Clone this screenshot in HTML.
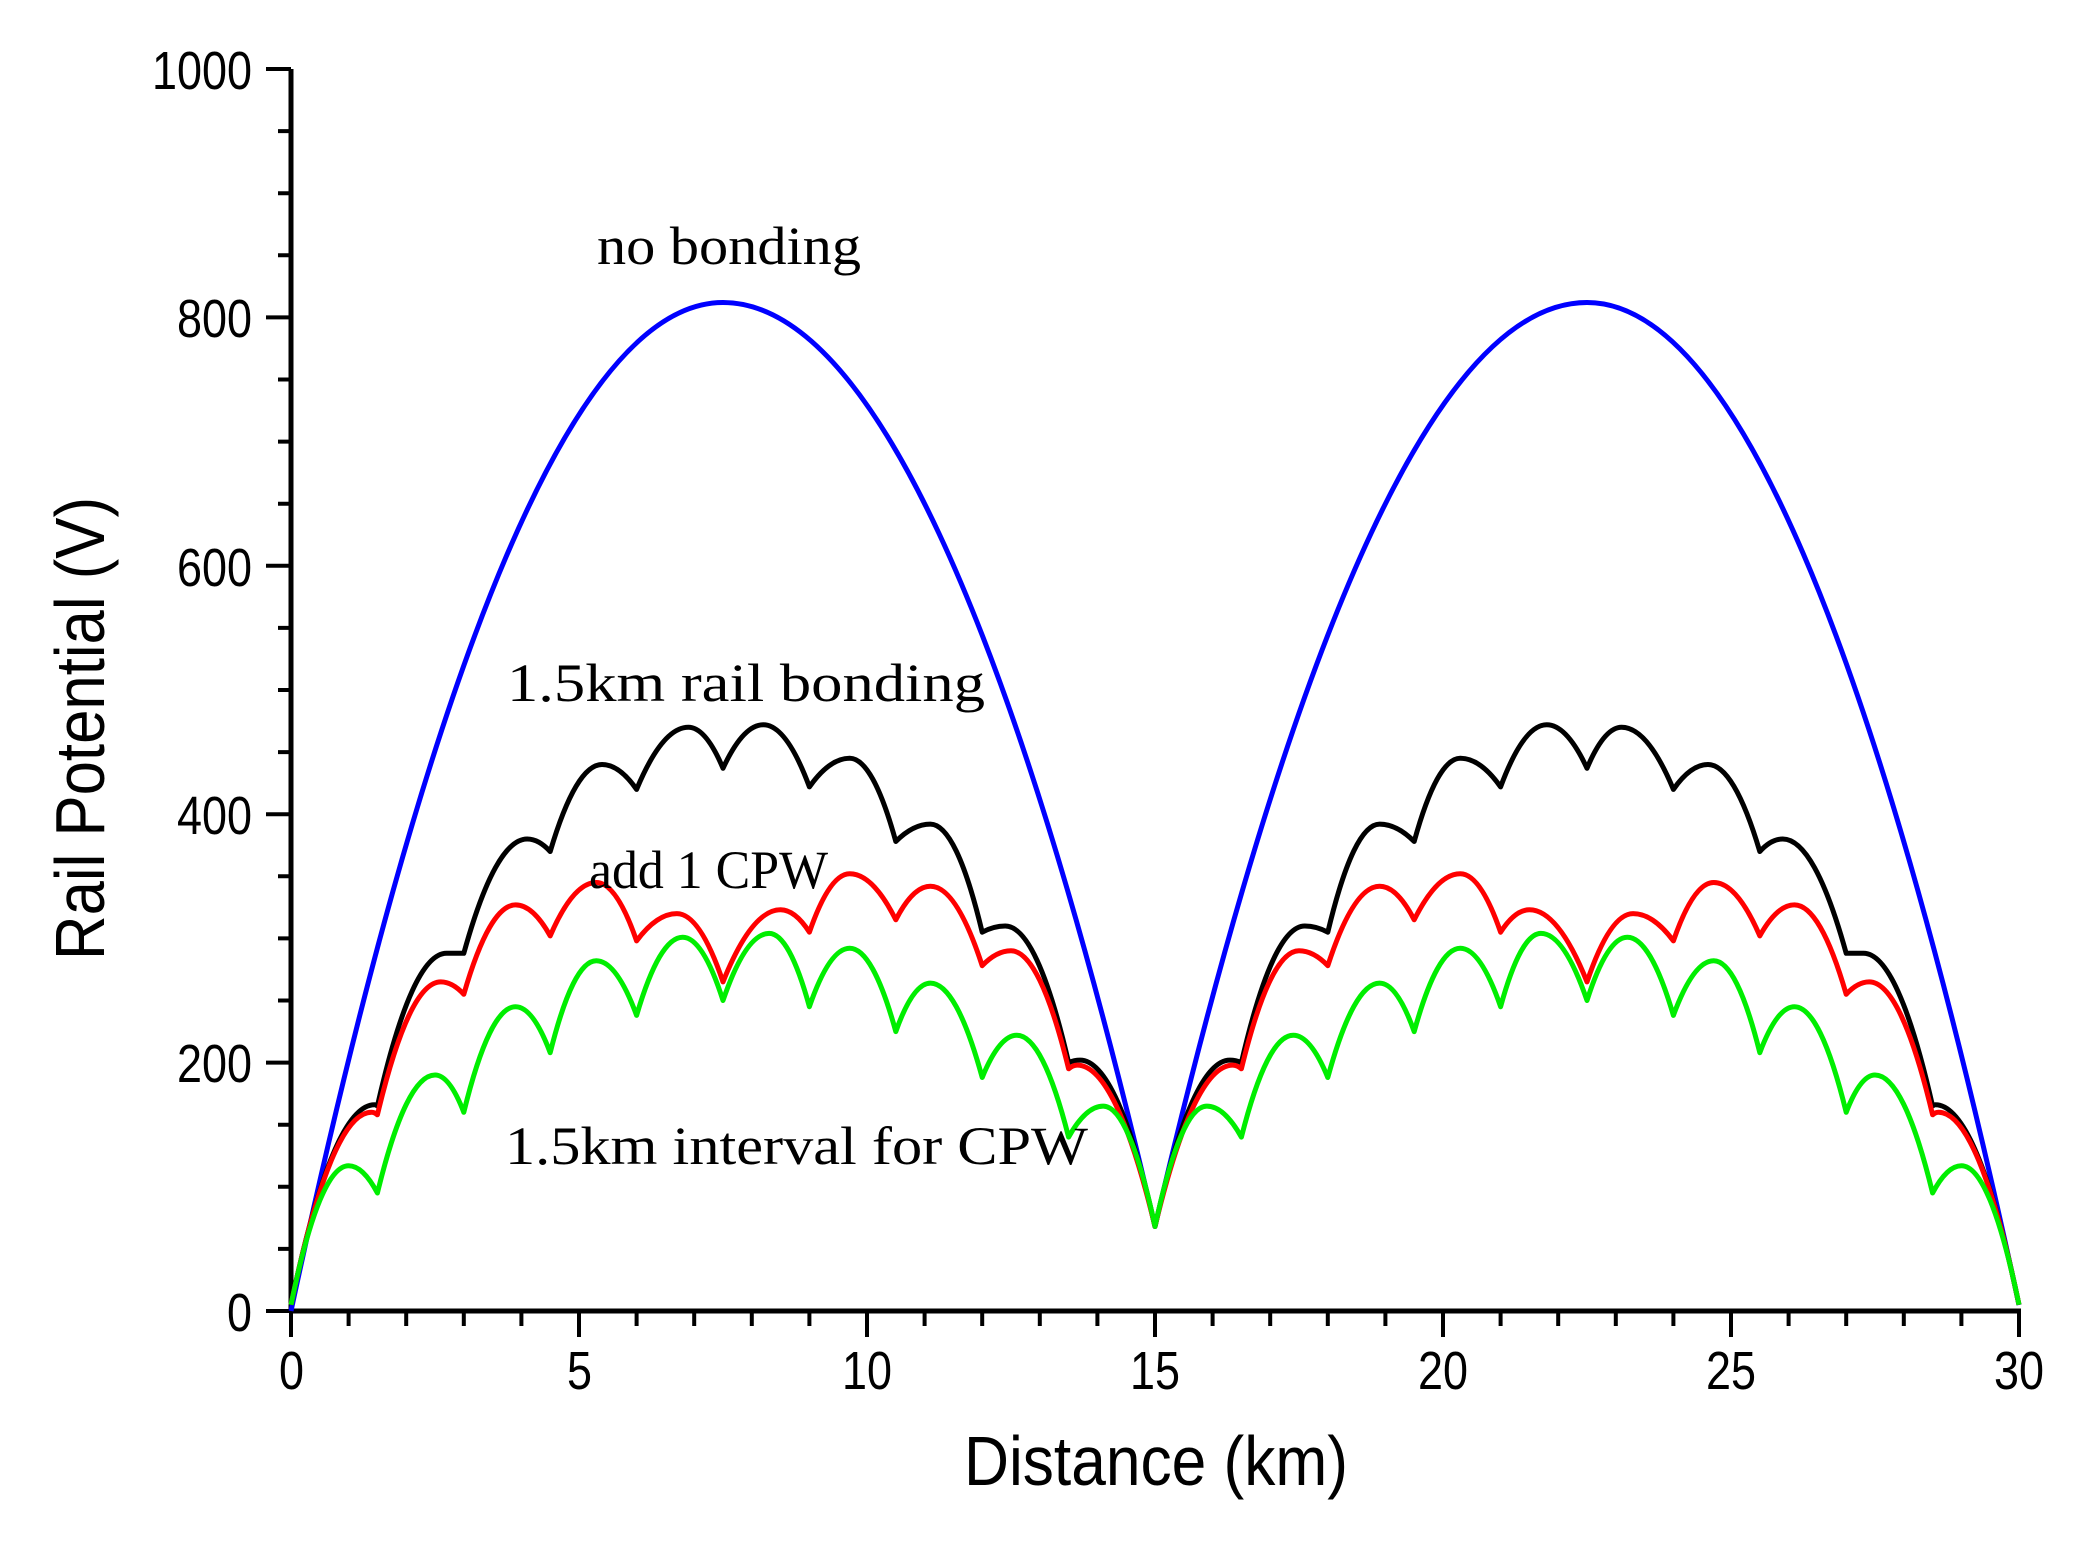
<!DOCTYPE html>
<html><head><meta charset="utf-8"><style>
html,body{margin:0;padding:0;background:#fff}
svg{display:block}
</style></head><body>
<svg width="2093" height="1544" xmlns="http://www.w3.org/2000/svg">
<rect width="2093" height="1544" fill="#fff"/>
<g stroke="#000" stroke-width="4">
<path d="M291,1311V1337M579,1311V1337M867,1311V1337M1155,1311V1337M1443,1311V1337M1731,1311V1337M2019,1311V1337
M348.6,1311V1326M406.2,1311V1326M463.8,1311V1326M521.4,1311V1326M636.6,1311V1326M694.2,1311V1326M751.8,1311V1326M809.4,1311V1326M924.6,1311V1326M982.2,1311V1326M1039.8,1311V1326M1097.4,1311V1326M1212.6,1311V1326M1270.2,1311V1326M1327.8,1311V1326M1385.4,1311V1326M1500.6,1311V1326M1558.2,1311V1326M1615.8,1311V1326M1673.4,1311V1326M1788.6,1311V1326M1846.2,1311V1326M1903.8,1311V1326M1961.4,1311V1326
M266,1311H291M266,1062.6H291M266,814.2H291M266,565.8H291M266,317.4H291M266,69H291
M278,1186.8H291M278,938.4H291M278,690H291M278,441.6H291M278,193.2H291
M278,1248.9H291M278,1124.7H291M278,1000.5H291M278,876.3H291M278,752.1H291M278,627.9H291M278,503.7H291M278,379.5H291M278,255.3H291M278,131.1H291"/>
</g>
<line x1="291" y1="69" x2="291" y2="1313" stroke="#000" stroke-width="5"/>
<line x1="289" y1="1311" x2="2021" y2="1311" stroke="#000" stroke-width="5"/>
<g fill="none" stroke-width="5" stroke-linejoin="round">
<path stroke="#0000ff" d="M291,1311 Q507,302.5 723,302.5 Q939,302.5 1155,1226.5 Q1371,302.5 1587,302.5 Q1803,302.5 2019,1305"/>
<path stroke="#000000" d="M291,1304.8
Q332.8,1104.8 374.5,1104.8 Q376,1104.8 377.4,1106.1
Q412,953.3 446.5,953.3 Q455.2,953.3 463.8,953.3
Q495.5,839 527.2,839 Q538.7,839 550.2,851.5
Q576.1,764.5 602,764.5 Q619.3,764.5 636.6,789.4
Q662.5,727.3 688.4,727.3 Q705.7,727.3 723,768.3
Q743.2,724.8 763.3,724.8 Q786.4,724.8 809.4,786.9
Q829.6,758.3 849.7,758.3 Q872.8,758.3 895.8,841.5
Q913.1,824.1 930.4,824.1 Q956.3,824.1 982.2,932.2
Q993.7,926 1005.2,926 Q1037,926 1068.6,1062.6
Q1074.4,1060.1 1080.1,1060.1 Q1117.6,1060.1 1155,1226.5
Q1192.4,1060.1 1229.9,1060.1 Q1235.6,1060.1 1241.4,1062.6
Q1273,926 1304.8,926 Q1316.3,926 1327.8,932.2
Q1353.7,824.1 1379.6,824.1 Q1396.9,824.1 1414.2,841.5
Q1437.2,758.3 1460.3,758.3 Q1480.4,758.3 1500.6,786.9
Q1523.6,724.8 1546.7,724.8 Q1566.8,724.8 1587,768.3
Q1604.3,727.3 1621.6,727.3 Q1647.5,727.3 1673.4,789.4
Q1690.7,764.5 1708,764.5 Q1733.9,764.5 1759.8,851.5
Q1771.3,839 1782.8,839 Q1814.5,839 1846.2,953.3
Q1854.8,953.3 1863.5,953.3 Q1898,953.3 1932.6,1106.1
Q1934,1104.8 1935.5,1104.8 Q1977.2,1104.8 2019,1304.8"/>
<path stroke="#ff0000" d="M291,1304.8
Q331.3,1112.3 371.6,1112.3 Q374.5,1112.3 377.4,1114.8
Q409.1,981.9 440.8,981.9 Q452.3,981.9 463.8,994.3
Q489.7,904.9 515.6,904.9 Q532.9,904.9 550.2,935.9
Q573.2,882.5 596.3,882.5 Q616.4,882.5 636.6,940.9
Q656.8,913.6 676.9,913.6 Q700,913.6 723,981.9
Q751.8,909.8 780.6,909.8 Q795,909.8 809.4,932.2
Q829.6,873.8 849.7,873.8 Q872.8,873.8 895.8,919.8
Q913.1,886.2 930.4,886.2 Q956.3,886.2 982.2,965.7
Q996.6,950.8 1011,950.8 Q1039.8,950.8 1068.6,1068.8
Q1072.9,1065.1 1077.2,1065.1 Q1116.1,1065.1 1155,1226.5
Q1193.9,1065.1 1232.8,1065.1 Q1237.1,1065.1 1241.4,1068.8
Q1270.2,950.8 1299,950.8 Q1313.4,950.8 1327.8,965.7
Q1353.7,886.2 1379.6,886.2 Q1396.9,886.2 1414.2,919.8
Q1437.2,873.8 1460.3,873.8 Q1480.4,873.8 1500.6,932.2
Q1515,909.8 1529.4,909.8 Q1558.2,909.8 1587,981.9
Q1610,913.6 1633.1,913.6 Q1653.2,913.6 1673.4,940.9
Q1693.6,882.5 1713.7,882.5 Q1736.8,882.5 1759.8,935.9
Q1777.1,904.9 1794.4,904.9 Q1820.3,904.9 1846.2,994.3
Q1857.7,981.9 1869.2,981.9 Q1900.9,981.9 1932.6,1114.8
Q1935.5,1112.3 1938.4,1112.3 Q1978.7,1112.3 2019,1304.8"/>
<path stroke="#00ee00" d="M291,1304.8
Q319.8,1165.7 348.6,1165.7 Q363,1165.7 377.4,1193
Q406.2,1075 435,1075 Q449.4,1075 463.8,1112.3
Q489.7,1006.7 515.6,1006.7 Q532.9,1006.7 550.2,1052.7
Q573.2,960.8 596.3,960.8 Q616.4,960.8 636.6,1015.4
Q659.6,937.2 682.7,937.2 Q702.8,937.2 723,1000.5
Q746,933.4 769.1,933.4 Q789.2,933.4 809.4,1006.7
Q829.6,948.3 849.7,948.3 Q872.8,948.3 895.8,1031.6
Q913.1,983.1 930.4,983.1 Q956.3,983.1 982.2,1077.5
Q999.5,1035.3 1016.8,1035.3 Q1042.7,1035.3 1068.6,1137.1
Q1085.9,1106.1 1103.2,1106.1 Q1129.1,1106.1 1155,1226.5
Q1180.9,1106.1 1206.8,1106.1 Q1224.1,1106.1 1241.4,1137.1
Q1267.3,1035.3 1293.2,1035.3 Q1310.5,1035.3 1327.8,1077.5
Q1353.7,983.1 1379.6,983.1 Q1396.9,983.1 1414.2,1031.6
Q1437.2,948.3 1460.3,948.3 Q1480.4,948.3 1500.6,1006.7
Q1520.8,933.4 1540.9,933.4 Q1564,933.4 1587,1000.5
Q1607.2,937.2 1627.3,937.2 Q1650.4,937.2 1673.4,1015.4
Q1693.6,960.8 1713.7,960.8 Q1736.8,960.8 1759.8,1052.7
Q1777.1,1006.7 1794.4,1006.7 Q1820.3,1006.7 1846.2,1112.3
Q1860.6,1075 1875,1075 Q1903.8,1075 1932.6,1193
Q1947,1165.7 1961.4,1165.7 Q1990.2,1165.7 2019,1304.8"/>
</g>
<g font-family="Liberation Sans, sans-serif" font-size="54" fill="#000">
<text x="152" y="89" textLength="100" lengthAdjust="spacingAndGlyphs">1000</text>
<text x="177" y="337" textLength="75" lengthAdjust="spacingAndGlyphs">800</text>
<text x="177" y="586" textLength="75" lengthAdjust="spacingAndGlyphs">600</text>
<text x="177" y="834" textLength="75" lengthAdjust="spacingAndGlyphs">400</text>
<text x="177" y="1082" textLength="75" lengthAdjust="spacingAndGlyphs">200</text>
<text x="227" y="1331" textLength="25" lengthAdjust="spacingAndGlyphs">0</text>
<text x="279" y="1389" textLength="25" lengthAdjust="spacingAndGlyphs">0</text>
<text x="567" y="1389" textLength="25" lengthAdjust="spacingAndGlyphs">5</text>
<text x="842" y="1389" textLength="50" lengthAdjust="spacingAndGlyphs">10</text>
<text x="1130" y="1389" textLength="50" lengthAdjust="spacingAndGlyphs">15</text>
<text x="1418" y="1389" textLength="50" lengthAdjust="spacingAndGlyphs">20</text>
<text x="1706" y="1389" textLength="50" lengthAdjust="spacingAndGlyphs">25</text>
<text x="1994" y="1389" textLength="50" lengthAdjust="spacingAndGlyphs">30</text>
</g>
<text x="964" y="1485" textLength="384" lengthAdjust="spacingAndGlyphs" font-family="Liberation Sans, sans-serif" font-size="70">Distance (km)</text>
<text transform="translate(104,960) rotate(-90)" textLength="463" lengthAdjust="spacingAndGlyphs" font-family="Liberation Sans, sans-serif" font-size="70">Rail Potential (V)</text>
<g font-family="Liberation Serif, serif" font-size="54" fill="#000">
<text x="597" y="264" textLength="264" lengthAdjust="spacingAndGlyphs">no bonding</text>
<text x="507" y="701" textLength="478" lengthAdjust="spacingAndGlyphs">1.5km rail bonding</text>
<text x="589" y="888" textLength="239" lengthAdjust="spacingAndGlyphs">add 1 CPW</text>
<text x="505" y="1164" textLength="583" lengthAdjust="spacingAndGlyphs">1.5km interval for CPW</text>
</g>
</svg>
</body></html>
